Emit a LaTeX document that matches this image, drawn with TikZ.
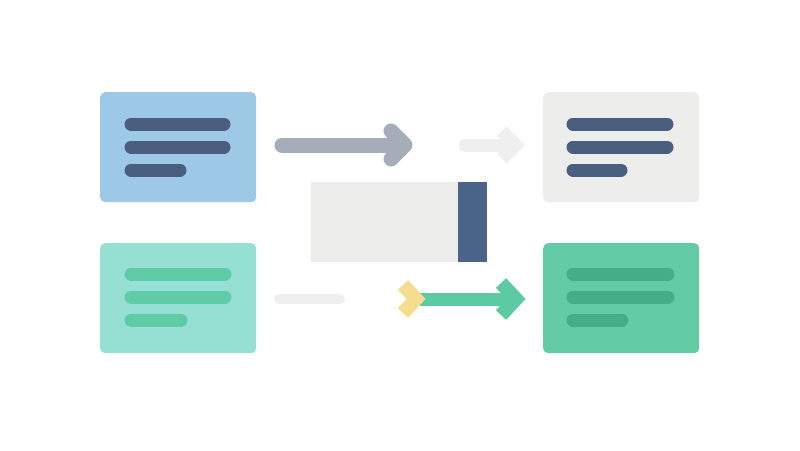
\documentclass[tikz,border=0pt]{standalone}
\usetikzlibrary{positioning}
\definecolor{cblue}{HTML}{9DC8E6}
\definecolor{cdark}{HTML}{4A5F80}
\definecolor{cgraybox}{HTML}{EDEDEB}
\definecolor{cteal}{HTML}{95E0D3}
\definecolor{ctealline}{HTML}{5FCCA7}
\definecolor{cgreen}{HTML}{63CBA6}
\definecolor{cgreenline}{HTML}{45AE86}
\definecolor{carrow}{HTML}{A7ADB8}
\definecolor{clight}{HTML}{EFEFEF}
\definecolor{cbar}{HTML}{4A6388}
\definecolor{cyellow}{HTML}{F6DC8E}
\definecolor{cgarrow}{HTML}{5CCBA4}
\tikzset{
  card/.style={rounded corners=5pt, inner sep=0pt, minimum width=156pt, minimum height=110pt},
  txtline/.style={line width=13pt, line cap=round},
  chev/.style={line width=15pt, line cap=round, line join=round},
  sharpchev/.style={line width=14pt, line cap=butt, line join=miter},
}
\begin{document}
\begin{tikzpicture}[x=1pt,y=-1pt]
\useasboundingbox[fill=white] (0,0) rectangle (800,450);
% cards
\node[card, fill=cblue, anchor=north west] (tl) at (100,92) {};
\node[card, fill=cgraybox, anchor=north west] (tr) at (543,92) {};
\node[card, fill=cteal, anchor=north west] (bl) at (100,243) {};
\node[card, fill=cgreen, anchor=north west] (br) at (543,243) {};
% text lines
\draw[txtline, cdark] (131,124) -- (224,124);
\draw[txtline, cdark] (131,147) -- (224,147);
\draw[txtline, cdark] (131,170) -- (180,170);
\draw[txtline, cdark] (573,124) -- (667,124);
\draw[txtline, cdark] (573,147) -- (667,147);
\draw[txtline, cdark] (573,170) -- (621,170);
\draw[txtline, ctealline] (131,274) -- (225,274);
\draw[txtline, ctealline] (131,297) -- (225,297);
\draw[txtline, ctealline] (131,320) -- (181,320);
\draw[txtline, cgreenline] (573,274) -- (668,274);
\draw[txtline, cgreenline] (573,297) -- (668,297);
\draw[txtline, cgreenline] (573,320) -- (622,320);
% middle block
\node[fill=cgraybox, inner sep=0pt, minimum width=147pt, minimum height=80pt, anchor=north west] (mid) at (311,182) {};
\node[fill=cbar, inner sep=0pt, minimum width=29pt, minimum height=80pt, anchor=north west] (bar) at (458,182) {};
% top gray arrow
\coordinate (a1s) at (282,145);
\coordinate (a1e) at (404,145);
\draw[chev, carrow] (a1s) -- (a1e);
\draw[chev, carrow] (391,131) -- (405,145) -- (391,159);
% light arrow
\coordinate (a2s) at (465,145);
\coordinate (a2e) at (514,145);
\draw[line width=13pt, line cap=round, clight] (a2s) -- (a2e);
\draw[line width=13pt, line join=miter, line cap=butt, clight] (502,131) -- (516,145) -- (502,159);
% bottom light dash
\coordinate (d1) at (279,299);
\coordinate (d2) at (340,299);
\draw[line width=10pt, line cap=round, clight] (d1) -- (d2);
% green arrow
\coordinate (g1) at (420,299);
\coordinate (g2) at (513,299);
\draw[line width=13pt, cgarrow] (g1) -- (g2);
\draw[sharpchev, cgarrow] (501,283) -- (516,299) -- (501,315);
% yellow chevron
\draw[sharpchev, cyellow] (403,285) -- (416,299) -- (403,313);
\end{tikzpicture}
\end{document}
